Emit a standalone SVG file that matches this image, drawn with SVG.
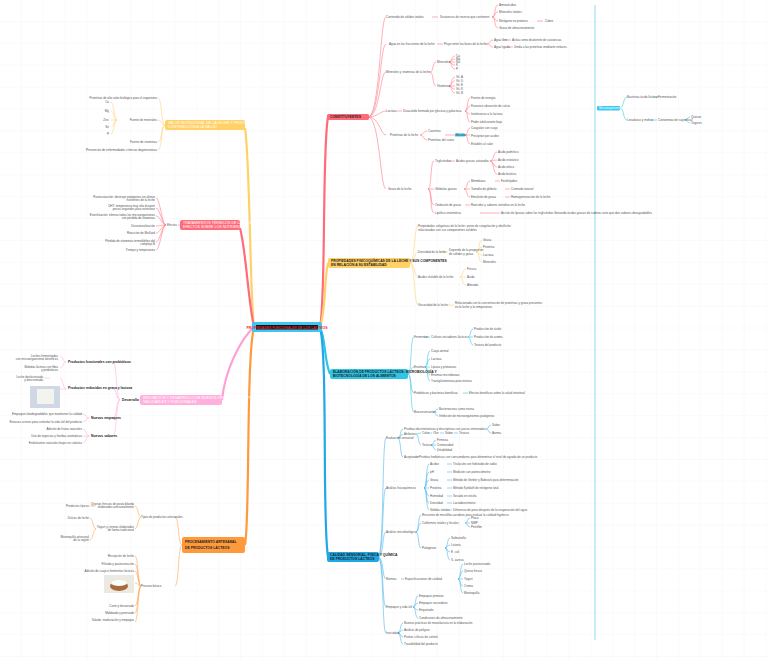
<svg xmlns="http://www.w3.org/2000/svg" width="768" height="660" viewBox="0 0 768 660">
<defs>
<pattern id="grid" width="21.9" height="21.9" patternUnits="userSpaceOnUse"><path d="M21.9 0V21.9H0" fill="none" stroke="#ececec" stroke-width="0.6"/></pattern>
<style>
.t{font-family:"Liberation Sans",Arial,sans-serif;font-size:3px;fill:#555}
.b{font-family:"Liberation Sans",Arial,sans-serif;font-size:3.4px;font-weight:bold;fill:#222}
.w{font-family:"Liberation Sans",Arial,sans-serif;font-size:3.6px;fill:#fff}
.r{fill:none;stroke:#ff7b86;stroke-width:0.6}
.y{fill:none;stroke:#ffd27a;stroke-width:0.6}
.c{fill:none;stroke:#3cc8e6;stroke-width:0.6}
.bl{fill:none;stroke:#4cb8ee;stroke-width:0.6}
.p{fill:none;stroke:#ffb0dc;stroke-width:0.6}
.o{fill:none;stroke:#ffa451;stroke-width:0.6}
</style>
</defs>
<rect width="768" height="660" fill="#fff"/>
<rect width="768" height="660" fill="url(#grid)"/>

<g id="connectors">
<path d="M254 327 C250 300 250 160 245 128" fill="none" stroke="#ffd166" stroke-width="2.2"/>
<path d="M254 327 C248 300 246 250 240 228" fill="none" stroke="#ff6b7a" stroke-width="2.2"/>
<path d="M254 327 C240 340 225 370 222 400" fill="none" stroke="#ff9fd6" stroke-width="2.2"/>
<path d="M254 327 C246 360 250 520 245 545" fill="none" stroke="#ff9a3c" stroke-width="2.2"/>
<path d="M320 327 C326 300 322 150 328 117" fill="none" stroke="#ff6b7a" stroke-width="2.2"/>
<path d="M320 327 C326 310 324 280 328 263" fill="none" stroke="#ffd166" stroke-width="2.2"/>
<path d="M320 327 C326 340 324 360 330 374" fill="none" stroke="#2ec5e6" stroke-width="2.2"/>
<path d="M320 327 C328 360 322 520 328 557" fill="none" stroke="#1fa7e6" stroke-width="2.2"/>
<path class="r" d="M368 117 C380 117 380 17 386 17 M368 117 C380 117 380 44 386 44 M368 117 C380 117 380 72 386 72 M368 117 C378 117 380 111 386 111 M368 117 C380 117 380 135 386 135 M368 117 C380 117 380 189 386 189"/>
<path class="r" d="M432 17H438 M492 17C496 17 494 5 498 5 M492 17C496 17 494 12 498 12 M492 17C496 17 494 21 498 21 M492 17C496 17 494 28 498 28 M537 21H543"/>
<path class="r" d="M437 44H443 M487 44C491 44 489 40 493 40 M487 44C491 44 489 47 493 47 M505 40H511 M507 47H513"/>
<path class="r" d="M430 72C434 72 432 62 436 62 M430 72C434 72 432 86 436 86 M449 62C452 62 451 56 455 56 M449 62H455 M449 62C452 62 451 69 455 69 M449 62C452 62 451 59 455 59 M449 62C452 62 451 65 455 65 M449 86C452 86 451 77 455 77 M449 86C452 86 451 93 455 93 M449 86H455 M449 86C452 86 451 81 455 81 M449 86C452 86 451 89 455 89"/>
<path class="r" d="M397 111H402 M465 111C468 111 467 98 470 98 M465 111C468 111 467 106 470 106 M465 111C468 111 467 114 470 114 M465 111C468 111 467 122 470 122"/>
<path class="r" d="M420 135C424 135 423 131 427 131 M420 135C424 135 423 140 427 140 M445 135H455 M465 135C468 135 467 128 470 128 M465 135H470 M465 135C468 135 467 144 470 144"/>
<path class="r" d="M428 189C432 189 430 161 434 161 M428 189H434 M428 189C432 189 430 205 434 205 M428 189C432 189 430 213 434 213 M450 161H455 M490 161C494 161 493 152 497 152 M490 161C494 161 493 160 497 160 M490 161C494 161 493 167 497 167 M490 161C494 161 493 174 497 174 M464 189C468 189 466 181 470 181 M464 189H470 M464 189C468 189 466 197 470 197 M495 181H500 M505 189H510 M505 197H510 M465 205H470 M480 213H500"/>
<path class="c" d="M595 5V640"/>
<path class="c" d="M620 108C624 108 623 97 627 97 M620 108C624 108 623 120 627 120 M653 97H657 M651 120H657 M685 120C688 120 687 117 690 117 M685 120C688 120 687 123 690 123"/>
<path class="y" d="M410 263C415 263 414 226 418 226 M410 263C415 263 414 252 418 252 M410 263C415 263 414 277 418 277 M410 263C415 263 414 305 418 305 M440 252H448 M476 252C480 252 478 240 482 240 M476 252C480 252 478 247 482 247 M476 252C480 252 478 255 482 255 M476 252C480 252 478 262 482 262 M460 277C463 277 462 269 466 269 M460 277H466 M460 277C463 277 462 285 466 285 M448 305H454"/>
<path class="c" d="M408 374C412 374 410 337 414 337 M408 374C412 374 410 367 414 367 M408 374C412 374 410 393 414 393 M408 374C412 374 410 412 414 412 M424 337H430 M468 337C471 337 470 329 473 329 M468 337H473 M468 337C471 337 470 345 473 345 M425 367C428 367 427 351 430 351 M425 367C428 367 427 359 430 359 M425 367C428 367 427 367 430 367 M425 367C428 367 427 375 430 375 M425 367C428 367 427 381 430 381 M463 393H468 M433 412C436 412 435 409 438 409 M433 412C436 412 435 416 438 416"/>
<path class="bl" d="M378 557C384 557 382 438 386 438 M378 557C384 557 382 488 386 488 M378 557C384 557 382 532 386 532 M378 557C384 557 382 579 386 579 M378 557C384 557 382 607 386 607 M378 557C384 557 382 633 386 633"/>
<path class="bl" d="M398 438C401 438 400 429 403 429 M398 438C401 438 400 434 403 434 M398 438C401 438 400 457 403 457 M486 429C489 429 488 425 491 425 M486 429C489 429 488 433 491 433 M416 434C419 434 418 433 421 433 M416 434C419 434 418 445 421 445 M428 433H432 M440 433H444 M454 433H458 M431 445C434 445 433 440 436 440 M431 445H436 M431 445C434 445 433 450 436 450 M414 457H418"/>
<path class="bl" d="M424 488C427 488 426 464 429 464 M424 488C427 488 426 472 429 472 M424 488C427 488 426 480 429 480 M424 488C427 488 426 488 429 488 M424 488C427 488 426 496 429 496 M424 488C427 488 426 503 429 503 M424 488C427 488 426 510 429 510 M447 464H452 M447 472H452 M447 480H452 M447 488H452 M447 496H452 M447 503H452 M447 510H452"/>
<path class="bl" d="M416 532C419 532 418 515 421 515 M416 532C419 532 418 523 421 523 M416 532C419 532 418 548 421 548 M465 523C468 523 467 518 470 518 M465 523H470 M465 523C468 523 467 527 470 527 M445 548C448 548 447 538 450 538 M445 548C448 548 447 545 450 545 M445 548C448 548 447 552 450 552 M445 548C448 548 447 560 450 560"/>
<path class="bl" d="M401 579H404 M458 579C461 579 460 564 463 564 M458 579C461 579 460 571 463 571 M458 579H463 M458 579C461 579 460 586 463 586 M458 579C461 579 460 593 463 593 M413 607C416 607 415 596 418 596 M413 607C416 607 415 603 418 603 M413 607C416 607 415 610 418 610 M413 607C416 607 415 618 418 618 M398 633C401 633 400 623 403 623 M398 633C401 633 400 630 403 630 M398 633C401 633 400 637 403 637 M398 633C401 633 400 644 403 644"/>
<path class="y" d="M165 125C161 125 162 98 158 98 M165 125C161 125 162 120 158 120 M165 125C161 125 162 142 158 142 M165 125C161 125 162 150 158 150 M117 120C114 120 114 102 111 102 M117 120C114 120 114 111 111 111 M117 120H111 M117 120C114 120 114 127 111 127 M117 120C114 120 114 134 111 134"/>
<path class="r" d="M180 225H178 M166 225C162 225 160 198 156 198 M166 225C162 225 160 208 156 208 M166 225C162 225 160 216 156 216 M166 225C162 225 160 226 156 226 M166 225C162 225 160 233 156 233 M166 225C162 225 160 242 156 242 M166 225C162 225 160 250 156 250"/>
<path class="p" d="M140 400H134 M120 400C116 400 117 362 113 362 M120 400C116 400 117 389 113 389 M120 400C116 400 117 418 113 418 M120 400C116 400 117 436 113 436 M66 362C63 362 63 356 60 356 M66 362C63 362 63 368 60 368 M66 389C63 389 63 378 60 378 M66 389H60 M50 378H44 M89 418C86 418 86 414 83 414 M89 418C86 418 86 422 83 422 M89 436C86 436 86 429 83 429 M89 436C86 436 86 436 83 436 M89 436C86 436 86 443 83 443"/>
<path class="o" d="M182 545C178 545 179 517 175 517 M182 545C178 545 179 586 175 586 M141 517C138 517 138 506 135 506 M141 517C138 517 138 529 135 529 M96 506H90 M96 529C93 529 93 518 90 518 M96 529C93 529 93 540 90 540 M141 586C138 586 138 556 135 556 M141 586C138 586 138 564 135 564 M141 586C138 586 138 571 135 571 M141 586C138 586 138 583 135 583 M141 586C138 586 138 606 135 606 M141 586C138 586 138 613 135 613 M141 586C138 586 138 622 135 622"/>
</g>

<g id="center"><rect x="252" y="322" width="70" height="10" rx="2" fill="#3cc8f0"/><rect x="256" y="325" width="62" height="4.5" fill="#111"/><text x="287" y="328.6" text-anchor="middle" class="b" style="fill:#e23" font-size="3">PROPIEDADES FUNCIONALES DE LOS LÁCTEOS</text></g>

<g id="n-red-top"><rect x="327" y="114" width="42" height="6" rx="1.5" fill="#ff6b7a"/><text x="330" y="118.2" class="b">CONSTITUYENTES</text></g>
<g id="n-yellow-right"><rect x="328" y="258" width="82" height="10" rx="2" fill="#ffd166"/><text x="331" y="262" class="b" font-size="2.8">PROPIEDADES FISICOQUÍMICAS DE LA LECHE Y SUS COMPONENTES</text><text x="331" y="266" class="b" font-size="2.8">EN RELACIÓN A SU ESTABILIDAD</text></g>
<g id="n-cyan-right"><rect x="330" y="369" width="78" height="10" rx="2" fill="#2ec5e6"/><text x="333" y="373" class="b" font-size="2.6">ELABORACIÓN DE PRODUCTOS LÁCTEOS: MICROBIOLOGÍA Y</text><text x="333" y="377" class="b" font-size="2.6">BIOTECNOLOGÍA DE LOS ALIMENTOS</text></g>
<g id="n-blue-right"><rect x="327" y="552" width="52" height="10" rx="2" fill="#1fa7e6"/><text x="330" y="556" class="b" font-size="2.6">CALIDAD SENSORIAL, FISICA Y QUÍMICA</text><text x="330" y="560" class="b" font-size="2.6">DE PRODUCTOS LÁCTEOS</text></g>
<g id="n-yellow-left"><rect x="165" y="120" width="80" height="10" rx="2" fill="#ffd166"/><text x="168" y="124" class="w" font-size="2.7">VALOR NUTRICIONAL DE LA LECHE Y PRODUCTOS LÁCTEOS Y SU</text><text x="168" y="128" class="w" font-size="2.7">CONTRIBUCIÓN A LA SALUD</text></g>
<g id="n-red-left"><rect x="180" y="220" width="60" height="10" rx="2" fill="#ff6b7a"/><text x="183" y="224" class="w" font-size="2.7">TRATAMIENTOS TÉRMICOS DE LA LECHE Y SUS</text><text x="183" y="228" class="w" font-size="2.7">EFECTOS SOBRE LOS NUTRIENTES</text></g>
<g id="n-pink-left"><rect x="140" y="395" width="82" height="10" rx="2" fill="#ffb0dc"/><text x="143" y="399" class="w" font-size="2.7">INNOVACIÓN Y DESARROLLO DE NUEVOS PRODUCTOS LÁCTEOS</text><text x="143" y="403" class="w" font-size="2.7">SALUDABLES Y FUNCIONALES</text></g>
<g id="n-orange-left"><rect x="182" y="537" width="63" height="16" rx="2" fill="#ff9a3c"/><text x="185" y="543" class="b" font-size="4">PROCESAMIENTO ARTESANAL</text><text x="185" y="549" class="b" font-size="4">DE PRODUCTOS LÁCTEOS</text></g>
<g id="n-far-right"><rect x="597" y="106" width="23" height="4.5" rx="1" fill="#3cc8f0"/><text x="599" y="109.3" class="t" style="fill:#fff" font-size="2.6">Microorganismos</text></g>

<g id="labels-red-top">
<text x="386" y="18" class="t" font-size="2.6">Contenido de sólidos totales</text><text x="440" y="18" class="t" font-size="2.6">Sustancias de reserva que contienen</text>
<text x="499" y="6" class="t">Aminoácidos</text><text x="499" y="13" class="t">Minerales totales</text><text x="499" y="22" class="t" font-size="2.6">Nitrógeno no proteico</text><text x="545" y="22" class="t">Cobre</text><text x="499" y="29" class="t">Grasa de almacenamiento</text>
<text x="389" y="45" class="t" font-size="2.6">Agua en las fracciones de la leche</text><text x="444" y="45" class="t" font-size="2.6">Fluye entre las fases de la leche</text>
<text x="494" y="41" class="t">Agua libre</text><text x="512" y="41" class="t">Actúa como disolvente de sustancias</text><text x="494" y="48" class="t">Agua ligada</text><text x="514" y="48" class="t">Unida a las proteínas mediante enlaces</text>
<text x="386" y="73" class="t" font-size="2.6">Minerales y vitaminas de la leche</text>
<text x="437" y="63" class="t">Minerales</text><text x="437" y="87" class="t">Vitaminas</text>
<text x="456" y="57" class="t">Ca</text><text x="456" y="60" class="t">Mg</text><text x="456" y="63" class="t">Na</text><text x="456" y="66" class="t">K</text><text x="456" y="70" class="t">P</text>
<text x="456" y="78" class="t">Vit. A</text><text x="456" y="82" class="t">Vit. D</text><text x="456" y="86" class="t">Vit. E</text><text x="456" y="90" class="t">Vit. K</text><text x="456" y="94" class="t">Vit. B</text>
<text x="386" y="112" class="t">Lactosa</text><text x="403" y="112" class="t">Disacárido formado por glucosa y galactosa</text>
<text x="471" y="99" class="t">Fuente de energía</text><text x="471" y="107" class="t">Favorece absorción de calcio</text><text x="471" y="115" class="t">Intolerancia a la lactosa</text><text x="471" y="123" class="t">Poder edulcorante bajo</text>
<text x="390" y="136" class="t">Proteínas de la leche</text><text x="428" y="132" class="t">Caseínas</text><text x="428" y="141" class="t">Proteínas del suero</text>
<rect x="455" y="133.5" width="10" height="3" fill="#3cc8f0"/><text x="456" y="136" class="t" font-size="2.4">Micelas</text>
<text x="471" y="129" class="t">Coagulan con cuajo</text><text x="471" y="137" class="t">Precipitan por acidez</text><text x="471" y="145" class="t">Estables al calor</text>
<text x="388" y="190" class="t">Grasa de la leche</text>
<text x="435" y="162" class="t">Triglicéridos</text><text x="456" y="162" class="t">Ácidos grasos saturados</text>
<text x="498" y="153" class="t">Ácido palmítico</text><text x="498" y="161" class="t">Ácido esteárico</text><text x="498" y="168" class="t">Ácido oleico</text><text x="498" y="175" class="t">Ácido butírico</text>
<text x="435" y="190" class="t" font-size="2.6">Glóbulos grasos</text><text x="471" y="182" class="t">Membrana</text><text x="501" y="182" class="t">Fosfolípidos</text><text x="471" y="190" class="t" font-size="2.6">Tamaño de glóbulo</text><text x="511" y="190" class="t">Cremado natural</text><text x="471" y="198" class="t" font-size="2.6">Emulsión de grasa</text><text x="511" y="198" class="t">Homogeneización de la leche</text>
<text x="435" y="206" class="t" font-size="2.6">Oxidación de grasa</text><text x="471" y="206" class="t">Rancidez y sabores extraños en la leche</text>
<text x="435" y="214" class="t" font-size="2.6">Lipólisis enzimática</text><text x="501" y="214" class="t">Acción de lipasas sobre los triglicéridos liberando ácidos grasos de cadena corta que dan sabores desagradables</text>
</g>

<g id="labels-far-right">
<text x="627" y="98" class="t" font-size="2.6">Bacterias ácido lácticas</text><text x="658" y="98" class="t">Fermentación</text>
<text x="627" y="121" class="t" font-size="2.6">Levaduras y mohos</text><text x="658" y="121" class="t" font-size="2.6">Contaminación superficial</text><text x="691" y="118" class="t">Quesos</text><text x="691" y="124" class="t">Yogures</text>
</g>

<g id="labels-yellow-right">
<text x="418" y="227" class="t">Propiedades coligativas de la leche: punto de congelación y ebullición</text><text x="418" y="230.5" class="t">relacionados con sus componentes solubles</text>
<text x="418" y="253" class="t" font-size="2.6">Densidad de la leche</text><text x="449" y="251" class="t">Depende de la proporción</text><text x="449" y="254.5" class="t">de sólidos y grasa</text>
<text x="483" y="241" class="t">Grasa</text><text x="483" y="248" class="t">Proteína</text><text x="483" y="256" class="t">Lactosa</text><text x="483" y="263" class="t">Minerales</text>
<text x="418" y="278" class="t" font-size="2.6">Acidez titulable de la leche</text><text x="467" y="270" class="t">Fresca</text><text x="467" y="278" class="t">Ácida</text><text x="467" y="286" class="t">Alterada</text>
<text x="418" y="306" class="t" font-size="2.6">Viscosidad de la leche</text><text x="455" y="304" class="t">Relacionada con la concentración de proteínas y grasa presentes</text><text x="455" y="307.5" class="t">en la leche y la temperatura</text>
</g>

<g id="labels-cyan-right">
<text x="414" y="338" class="t" font-size="2.6">Fermentos</text><text x="431" y="338" class="t" font-size="2.6">Cultivos iniciadores lácticos</text>
<text x="474" y="330" class="t">Producción de ácido</text><text x="474" y="338" class="t">Producción de aroma</text><text x="474" y="346" class="t">Textura del producto</text>
<text x="414" y="368" class="t" font-size="2.6">Enzimas</text>
<text x="431" y="352" class="t">Cuajo animal</text><text x="431" y="360" class="t">Lactasa</text><text x="431" y="368" class="t">Lipasa y proteasas</text><text x="431" y="376" class="t">Enzimas microbianas</text><text x="431" y="382" class="t">Transglutaminasa para textura</text>
<text x="414" y="394" class="t" font-size="2.6">Probióticos y bacterias benéficas</text><text x="469" y="394" class="t">Efectos benéficos sobre la salud intestinal</text>
<text x="414" y="413" class="t" font-size="2.6">Bioconservantes</text><text x="439" y="410" class="t">Bacteriocinas como nisina</text><text x="439" y="417" class="t">Inhibición de microorganismos patógenos</text>
</g>

<g id="labels-blue-right">
<text x="386" y="439" class="t" font-size="2.6">Evaluación sensorial</text>
<text x="404" y="430" class="t" font-size="2.6">Pruebas discriminativas y descriptivas con jueces entrenados</text><text x="492" y="426" class="t">Sabor</text><text x="492" y="434" class="t">Aroma</text>
<text x="404" y="435" class="t" font-size="2.6">Atributos</text><text x="422" y="434" class="t" font-size="2.6">Color</text><text x="433" y="434" class="t" font-size="2.6">Olor</text><text x="445" y="434" class="t" font-size="2.6">Sabor</text><text x="459" y="434" class="t">Textura</text>
<text x="422" y="446" class="t" font-size="2.6">Textura</text><text x="437" y="441" class="t">Firmeza</text><text x="437" y="446" class="t">Cremosidad</text><text x="437" y="451" class="t">Untabilidad</text>
<text x="404" y="458" class="t" font-size="2.6">Aceptación</text><text x="419" y="458" class="t">Pruebas hedónicas con consumidores para determinar el nivel de agrado de un producto</text>
<text x="386" y="489" class="t" font-size="2.6">Análisis fisicoquímicos</text>
<text x="430" y="465" class="t">Acidez</text><text x="453" y="465" class="t">Titulación con hidróxido de sodio</text>
<text x="430" y="473" class="t">pH</text><text x="453" y="473" class="t">Medición con potenciómetro</text>
<text x="430" y="481" class="t">Grasa</text><text x="453" y="481" class="t">Método de Gerber y Babcock para determinación</text>
<text x="430" y="489" class="t">Proteína</text><text x="453" y="489" class="t">Método Kjeldahl de nitrógeno total</text>
<text x="430" y="497" class="t">Humedad</text><text x="453" y="497" class="t">Secado en estufa</text>
<text x="430" y="504" class="t">Densidad</text><text x="453" y="504" class="t">Lactodensímetro</text>
<text x="430" y="511" class="t" font-size="2.5">Sólidos totales</text><text x="453" y="511" class="t">Diferencia de peso después de la evaporación del agua</text>
<text x="386" y="533" class="t" font-size="2.6">Análisis microbiológico</text>
<text x="422" y="516" class="t">Recuento de mesófilos aerobios para evaluar la calidad higiénica</text>
<text x="422" y="524" class="t" font-size="2.6">Coliformes totales y fecales</text><text x="471" y="519" class="t">Placa</text><text x="471" y="524" class="t">NMP</text><text x="471" y="528" class="t">Petrifilm</text>
<text x="422" y="549" class="t">Patógenos</text><text x="451" y="539" class="t">Salmonella</text><text x="451" y="546" class="t">Listeria</text><text x="451" y="553" class="t">E. coli</text><text x="451" y="561" class="t">S. aureus</text>
<text x="386" y="580" class="t" font-size="2.6">Normas</text><text x="405" y="580" class="t" font-size="2.6">Especificaciones de calidad</text>
<text x="464" y="565" class="t">Leche pasteurizada</text><text x="464" y="572" class="t">Queso fresco</text><text x="464" y="580" class="t">Yogurt</text><text x="464" y="587" class="t">Crema</text><text x="464" y="594" class="t">Mantequilla</text>
<text x="386" y="608" class="t" font-size="2.6">Empaque y vida útil</text><text x="419" y="597" class="t">Empaque primario</text><text x="419" y="604" class="t">Empaque secundario</text><text x="419" y="611" class="t">Etiquetado</text><text x="419" y="619" class="t">Condiciones de almacenamiento</text>
<text x="386" y="634" class="t" font-size="2.6">Inocuidad</text><text x="404" y="624" class="t">Buenas prácticas de manufactura en la elaboración</text><text x="404" y="631" class="t">Análisis de peligros</text><text x="404" y="638" class="t">Puntos críticos de control</text><text x="404" y="645" class="t">Trazabilidad del producto</text>
</g>

<g id="labels-yellow-left">
<text x="157" y="99" class="t" text-anchor="end">Proteínas de alto valor biológico para el organismo</text>
<text x="157" y="121" class="t" text-anchor="end" font-size="2.6">Fuente de minerales</text>
<text x="109" y="103" class="t" text-anchor="end">Ca</text><text x="109" y="112" class="t" text-anchor="end">Mg</text><text x="109" y="121" class="t" text-anchor="end">Zinc</text><text x="109" y="128" class="t" text-anchor="end">Se</text><text x="109" y="135" class="t" text-anchor="end">P</text>
<text x="157" y="143" class="t" text-anchor="end">Fuente de vitaminas</text>
<text x="157" y="151" class="t" text-anchor="end">Prevención de enfermedades crónicas degenerativas</text>
</g>

<g id="labels-red-left">
<text x="167" y="226" class="t" font-size="2.6">Efectos</text>
<text x="155" y="198" class="t" text-anchor="end">Pasteurización: destruye patógenos sin alterar</text><text x="155" y="201" class="t" text-anchor="end">nutrientes de la leche</text>
<text x="155" y="207" class="t" text-anchor="end">UHT: temperatura muy alta durante</text><text x="155" y="210" class="t" text-anchor="end">pocos segundos para esterilizar</text>
<text x="155" y="216" class="t" text-anchor="end">Esterilización: elimina todos los microorganismos</text><text x="155" y="219" class="t" text-anchor="end">con pérdida de vitaminas</text>
<text x="155" y="227" class="t" text-anchor="end">Desnaturalización</text>
<text x="155" y="234" class="t" text-anchor="end">Reacción de Maillard</text>
<text x="155" y="242" class="t" text-anchor="end">Pérdida de vitaminas termolábiles del</text><text x="155" y="245" class="t" text-anchor="end">complejo B</text>
<text x="155" y="251" class="t" text-anchor="end">Tiempo y temperatura</text>
</g>

<g id="labels-pink-left">
<text x="122" y="401" class="b" font-size="2.6">Desarrollo</text>
<text x="68" y="363" class="b" font-size="2.6">Productos funcionales con probióticos</text>
<text x="58" y="357" class="t" text-anchor="end">Leches fermentadas</text><text x="58" y="360" class="t" text-anchor="end">con microorganismos benéficos</text>
<text x="58" y="368" class="t" text-anchor="end">Bebidas lácteas con fibra</text><text x="58" y="371" class="t" text-anchor="end">y prebióticos</text>
<text x="68" y="389" class="b" font-size="2.6">Productos reducidos en grasa y lactosa</text>
<text x="58" y="390" class="t" text-anchor="end">Quesos light</text>
<text x="43" y="378" class="t" text-anchor="end">Leche deslactosada</text><text x="43" y="381" class="t" text-anchor="end">y descremada</text>
<rect x="30" y="386" width="30" height="22" fill="#cfd8e4"/><rect x="37" y="389" width="17" height="15" fill="#f4f4ee"/>
<text x="91" y="419" class="b" font-size="2.6">Nuevos empaques</text>
<text x="82" y="415" class="t" text-anchor="end">Empaques biodegradables que mantienen la calidad</text><text x="82" y="423" class="t" text-anchor="end">Envases activos para controlar la vida útil del producto</text>
<text x="91" y="437" class="b" font-size="2.6">Nuevos sabores</text>
<text x="82" y="430" class="t" text-anchor="end">Adición de frutas naturales</text><text x="82" y="437" class="t" text-anchor="end">Uso de especias y hierbas aromáticas</text><text x="82" y="444" class="t" text-anchor="end">Endulzantes naturales bajos en calorías</text>
</g>

<g id="labels-orange-left">
<text x="141" y="518" class="t" font-size="2.6">Tipos de productos artesanales</text>
<text x="134" y="505" class="t" text-anchor="end">Quesos frescos de pasta blanda</text><text x="134" y="508" class="t" text-anchor="end">elaborados artesanalmente</text>
<text x="89" y="507" class="t" text-anchor="end">Productos típicos</text>
<text x="134" y="528" class="t" text-anchor="end">Yogurt y cremas elaborados</text><text x="134" y="531" class="t" text-anchor="end">de forma tradicional</text>
<text x="89" y="519" class="t" text-anchor="end">Dulces de leche</text><text x="89" y="538" class="t" text-anchor="end">Mantequilla artesanal</text><text x="89" y="541" class="t" text-anchor="end">de la región</text>
<text x="141" y="587" class="t" font-size="2.6">Proceso básico</text>
<text x="134" y="557" class="t" text-anchor="end">Recepción de leche</text><text x="134" y="565" class="t" text-anchor="end">Filtrado y pasteurización</text><text x="134" y="572" class="t" text-anchor="end">Adición de cuajo o fermentos lácticos</text>
<rect x="104" y="575" width="30" height="18" fill="#ece8e2"/><ellipse cx="119" cy="586" rx="9" ry="5" fill="#a86c3c"/><ellipse cx="119" cy="583" rx="8" ry="3" fill="#fbfbf8"/>
<text x="134" y="607" class="t" text-anchor="end">Corte y desuerado</text><text x="134" y="614" class="t" text-anchor="end">Moldeado y prensado</text><text x="134" y="621" class="t" text-anchor="end">Salado, maduración y empaque</text>
</g>
</svg>
